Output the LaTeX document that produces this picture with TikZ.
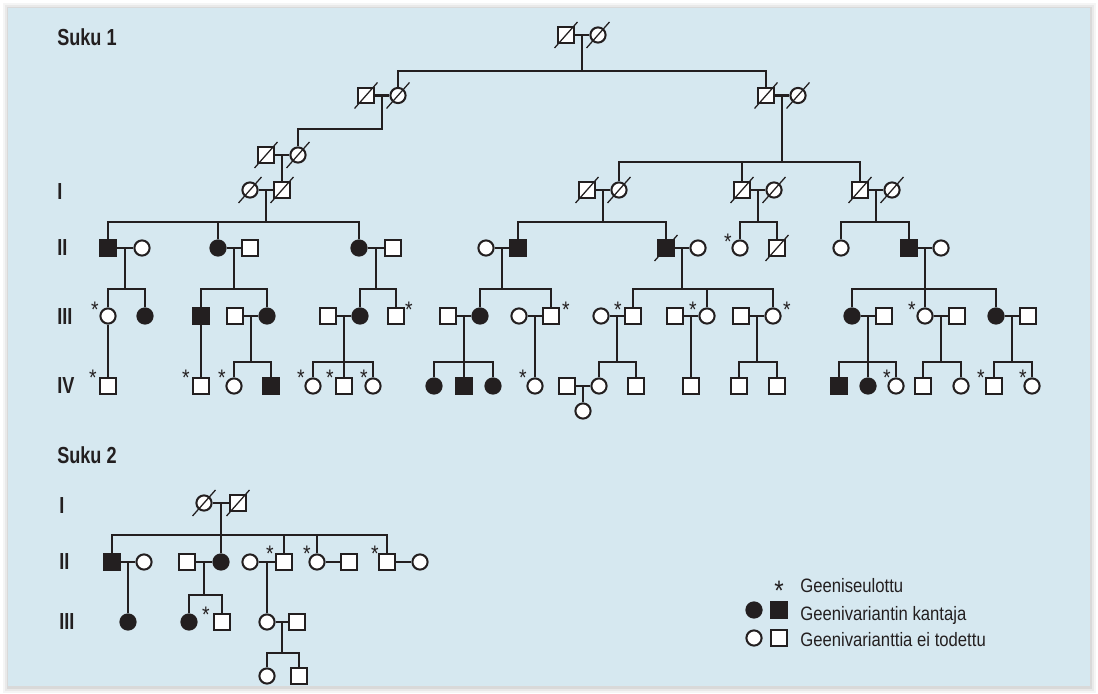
\documentclass[tikz,border=0pt]{standalone}
\usepackage{fontspec}
\setmainfont{Liberation Sans}[FakeStretch=0.86]
\newfontfamily\headfont{Liberation Sans}[FakeStretch=0.78]
\usetikzlibrary{calc}
\definecolor{cpanel}{HTML}{D6E8F0}
\definecolor{cink}{HTML}{231F20}

\tikzset{
  sym/.style={draw=cink, line width=1.45pt, minimum size=0.38cm, inner sep=0pt, fill=white},
  sq/.style={sym, rectangle},
  ci/.style={sym, circle},
  aff/.style={fill=cink},
  slash/.style={draw=cink, line width=0.9pt},
  ast/.style={inner sep=0pt, font=\fontsize{16}{16}\selectfont, text=cink, yshift=-3.5pt},
  gen/.style={anchor=west, inner sep=0pt, font=\headfont\bfseries\fontsize{16.5}{18}\selectfont, text=cink},
  legtext/.style={anchor=base west, inner sep=0pt, font=\fontsize{13.8}{15}\selectfont, text=cink},
  link/.style={draw=cink, line width=1.45pt}
}

\begin{document}
\begin{tikzpicture}[x=0.025cm, y=-0.025cm]
  \useasboundingbox (0,0) rectangle (1098,694);
  % panel with soft shadow
  \fill[black, opacity=.04] (3,3) rectangle (1096,693);
  \fill[black, opacity=.05] (5,5) rectangle (1094,691);
  \fill[black, opacity=.07] (7,7) rectangle (1092,689);
  \fill[cpanel] (8,8) rectangle (1090,686);

  % titles and generations
  \node[gen] (suku1) at (57,37) {Suku 1};
  \node[gen] (g1) at (57,192) {I};
  \node[gen] (g2) at (57,248) {II};
  \node[gen] (g3) at (57,317) {III};
  \node[gen] (g4) at (57,386) {IV};
  \node[gen] (suku2) at (57,455.5) {Suku 2};
  \node[gen] (h1) at (59,506) {I};
  \node[gen] (h2) at (59,562) {II};
  \node[gen] (h3) at (59,622) {III};

  % Suku 1, ancestors
  \node[sq] (t1) at (566,35) {};
  \node[ci] (t2) at (598,35) {};
  \node[sq] (b1) at (366,95.5) {};
  \node[ci] (b2) at (398,95.5) {};
  \node[sq] (b3) at (766,95.5) {};
  \node[ci] (b4) at (798,95.5) {};
  \node[sq] (a1) at (266,155) {};
  \node[ci] (a2) at (298,155) {};
  % generation I
  \node[ci] (i1) at (250,190) {};
  \node[sq] (i2) at (282,190) {};
  \node[sq] (i3) at (587,190) {};
  \node[ci] (i4) at (619,190) {};
  \node[sq] (i5) at (742,190) {};
  \node[ci] (i6) at (774,190) {};
  \node[sq] (i7) at (860,190) {};
  \node[ci] (i8) at (892,190) {};
  % generation II
  \node[sq, aff] (ii1) at (108,248) {};
  \node[ci] (ii2) at (142,248) {};
  \node[ci, aff] (ii3) at (218,248) {};
  \node[sq] (ii4) at (250,248) {};
  \node[ci, aff] (ii5) at (359,248) {};
  \node[sq] (ii6) at (393,248) {};
  \node[ci] (ii7) at (486,248) {};
  \node[sq, aff] (ii8) at (518,248) {};
  \node[sq, aff] (ii9) at (666,248) {};
  \node[ci] (ii10) at (698,248) {};
  \node[ci] (ii11) at (740,248) {};
  \node[sq] (ii12) at (777,248) {};
  \node[ci] (ii13) at (841,248) {};
  \node[sq, aff] (ii14) at (909,248) {};
  \node[ci] (ii15) at (941,248) {};
  % generation III
  \node[ci] (iii1) at (108,316) {};
  \node[ci, aff] (iii2) at (145,316) {};
  \node[sq, aff] (iii3) at (201,316) {};
  \node[sq] (iii4) at (235,316) {};
  \node[ci, aff] (iii5) at (267,316) {};
  \node[sq] (iii6) at (328,316) {};
  \node[ci, aff] (iii7) at (360,316) {};
  \node[sq] (iii8) at (396,316) {};
  \node[sq] (iii9) at (448,316) {};
  \node[ci, aff] (iii10) at (480,316) {};
  \node[ci] (iii11) at (519,316) {};
  \node[sq] (iii12) at (551,316) {};
  \node[ci] (iii13) at (601,316) {};
  \node[sq] (iii14) at (633,316) {};
  \node[sq] (iii15) at (675,316) {};
  \node[ci] (iii16) at (707,316) {};
  \node[sq] (iii17) at (741,316) {};
  \node[ci] (iii18) at (773,316) {};
  \node[ci, aff] (iii19) at (852,316) {};
  \node[sq] (iii20) at (884,316) {};
  \node[ci] (iii21) at (925,316) {};
  \node[sq] (iii22) at (957,316) {};
  \node[ci, aff] (iii23) at (996,316) {};
  \node[sq] (iii24) at (1028,316) {};
  % generation IV
  \node[sq] (iv1) at (108,386) {};
  \node[sq] (iv2) at (201,386) {};
  \node[ci] (iv3) at (234,386) {};
  \node[sq, aff] (iv4) at (271,386) {};
  \node[ci] (iv5) at (313,386) {};
  \node[sq] (iv6) at (344,386) {};
  \node[ci] (iv7) at (373,386) {};
  \node[ci, aff] (iv8) at (434,386) {};
  \node[sq, aff] (iv9) at (464,386) {};
  \node[ci, aff] (iv10) at (493,386) {};
  \node[ci] (iv11) at (535,386) {};
  \node[sq] (iv12) at (567,386) {};
  \node[ci] (iv13) at (599,386) {};
  \node[sq] (iv14) at (636,386) {};
  \node[sq] (iv15) at (691,386) {};
  \node[sq] (iv16) at (739,386) {};
  \node[sq] (iv17) at (777,386) {};
  \node[sq, aff] (iv18) at (839,386) {};
  \node[ci, aff] (iv19) at (868,386) {};
  \node[ci] (iv20) at (896,386) {};
  \node[sq] (iv21) at (923,386) {};
  \node[ci] (iv22) at (961,386) {};
  \node[sq] (iv23) at (994,386) {};
  \node[ci] (iv24) at (1032,386) {};
  \node[ci] (v1) at (583,411) {};

  % Suku 1, lines
  \draw[link] (t1) -- coordinate (mt1) (t2);
  \foreach \c in {b2,b3} \draw[link] (mt1) |- ($(\c.north)+(0,-16)$) -- (\c.north);
  \draw[link] (b1) -- coordinate (mb1) (b2);
  \draw[link] (mb1) |- ($(a2.north)+(0,-17.5)$) -- (a2.north);
  \draw[link] (b3) -- coordinate (mb3) (b4);
  \foreach \c in {i4,i5,i7} \draw[link] (mb3) |- ($(\c.north)+(0,-19.5)$) -- (\c.north);
  \draw[link] (a1) -- coordinate (ma1) (a2);
  \draw[link] (ma1) -- (ma1 |- i2.north);
  \draw[link] (i1) -- coordinate (mi1) (i2);
  \foreach \c in {ii1,ii3,ii5} \draw[link] (mi1) |- ($(\c.north)+(0,-17.5)$) -- (\c.north);
  \draw[link] (i3) -- coordinate (mi3) (i4);
  \foreach \c in {ii8,ii9} \draw[link] (mi3) |- ($(\c.north)+(0,-17.5)$) -- (\c.north);
  \draw[link] (i5) -- coordinate (mi5) (i6);
  \foreach \c in {ii11,ii12} \draw[link] (mi5) |- ($(\c.north)+(0,-17.5)$) -- (\c.north);
  \draw[link] (i7) -- coordinate (mi7) (i8);
  \foreach \c in {ii13,ii14} \draw[link] (mi7) |- ($(\c.north)+(0,-17.5)$) -- (\c.north);

  \draw[link] (ii1) -- coordinate (mii1) (ii2);
  \foreach \c in {iii1,iii2} \draw[link] (mii1) |- ($(\c.north)+(0,-18)$) -- (\c.north);
  \draw[link] (ii3) -- coordinate (mii3) (ii4);
  \foreach \c in {iii3,iii5} \draw[link] (mii3) |- ($(\c.north)+(0,-18)$) -- (\c.north);
  \draw[link] (ii5) -- coordinate (mii5) (ii6);
  \foreach \c in {iii7,iii8} \draw[link] (mii5) |- ($(\c.north)+(0,-18)$) -- (\c.north);
  \draw[link] (ii7) -- coordinate (mii7) (ii8);
  \foreach \c in {iii10,iii12} \draw[link] (mii7) |- ($(\c.north)+(0,-18)$) -- (\c.north);
  \draw[link] (ii9) -- coordinate (mii9) (ii10);
  \foreach \c in {iii14,iii16,iii18} \draw[link] (mii9) |- ($(\c.north)+(0,-18)$) -- (\c.north);
  \draw[link] (ii14) -- coordinate (mii14) (ii15);
  \foreach \c in {iii19,iii21,iii23} \draw[link] (mii14) |- ($(\c.north)+(0,-18)$) -- (\c.north);

  \draw[link] (iii1) -- (iv1);
  \draw[link] (iii3) -- (iv2);
  \draw[link] (iii4) -- coordinate (miii4) (iii5);
  \foreach \c in {iv3,iv4} \draw[link] (miii4) |- ($(\c.north)+(0,-15.5)$) -- (\c.north);
  \draw[link] (iii6) -- coordinate (miii6) (iii7);
  \foreach \c in {iv5,iv6,iv7} \draw[link] (miii6) |- ($(\c.north)+(0,-15.5)$) -- (\c.north);
  \draw[link] (iii9) -- coordinate (miii9) (iii10);
  \foreach \c in {iv8,iv9,iv10} \draw[link] (miii9) |- ($(\c.north)+(0,-15.5)$) -- (\c.north);
  \draw[link] (iii11) -- coordinate (miii11) (iii12);
  \draw[link] (miii11) -- (miii11 |- iv11.north);
  \draw[link] (iii13) -- coordinate (miii13) (iii14);
  \foreach \c in {iv13,iv14} \draw[link] (miii13) |- ($(\c.north)+(0,-15.5)$) -- (\c.north);
  \draw[link] (iii15) -- coordinate (miii15) (iii16);
  \draw[link] (miii15) -- (miii15 |- iv15.north);
  \draw[link] (iii17) -- coordinate (miii17) (iii18);
  \foreach \c in {iv16,iv17} \draw[link] (miii17) |- ($(\c.north)+(0,-15.5)$) -- (\c.north);
  \draw[link] (iii19) -- coordinate (miii19) (iii20);
  \foreach \c in {iv18,iv19,iv20} \draw[link] (miii19) |- ($(\c.north)+(0,-15.5)$) -- (\c.north);
  \draw[link] (iii21) -- coordinate (miii21) (iii22);
  \foreach \c in {iv21,iv22} \draw[link] (miii21) |- ($(\c.north)+(0,-15.5)$) -- (\c.north);
  \draw[link] (iii23) -- coordinate (miii23) (iii24);
  \foreach \c in {iv23,iv24} \draw[link] (miii23) |- ($(\c.north)+(0,-15.5)$) -- (\c.north);
  \draw[link] (iv12) -- coordinate (miv12) (iv13);
  \draw[link] (miv12) -- (miv12 |- v1.north);

  % Suku 1, screened
  \node[ast] (s-ii11) at ($(ii11)+(-12,-11)$) {*};
  \node[ast] (s-iii1) at ($(iii1)+(-13,-11)$) {*};
  \node[ast] (s-iii8) at ($(iii8)+(13,-11)$) {*};
  \node[ast] (s-iii12) at ($(iii12)+(15,-11)$) {*};
  \node[ast] (s-iii14) at ($(iii14)+(-15,-11)$) {*};
  \node[ast] (s-iii16) at ($(iii16)+(-14,-11)$) {*};
  \node[ast] (s-iii18) at ($(iii18)+(14,-11)$) {*};
  \node[ast] (s-iii21) at ($(iii21)+(-13,-11)$) {*};
  \node[ast] (s-iv1) at ($(iv1)+(-15,-13)$) {*};
  \node[ast] (s-iv2) at ($(iv2)+(-15,-13)$) {*};
  \node[ast] (s-iv3) at ($(iv3)+(-12,-13)$) {*};
  \node[ast] (s-iv5) at ($(iv5)+(-12,-13)$) {*};
  \node[ast] (s-iv6) at ($(iv6)+(-14,-13)$) {*};
  \node[ast] (s-iv7) at ($(iv7)+(-9,-13)$) {*};
  \node[ast] (s-iv11) at ($(iv11)+(-12,-13)$) {*};
  \node[ast] (s-iv20) at ($(iv20)+(-9,-13)$) {*};
  \node[ast] (s-iv23) at ($(iv23)+(-13,-13)$) {*};
  \node[ast] (s-iv24) at ($(iv24)+(-9,-13)$) {*};

  % Suku 2
  \node[ci] (k1) at (204,503) {};
  \node[sq] (k2) at (238,503) {};
  \node[sq, aff] (k3) at (112,562) {};
  \node[ci] (k4) at (144,562) {};
  \node[sq] (k5) at (187,562) {};
  \node[ci, aff] (k6) at (221,562) {};
  \node[ci] (k7) at (250,562) {};
  \node[sq] (k8) at (284,562) {};
  \node[ci] (k9) at (317,562) {};
  \node[sq] (k10) at (349,562) {};
  \node[sq] (k11) at (387,562) {};
  \node[ci] (k12) at (420,562) {};
  \node[ci, aff] (k13) at (128,622) {};
  \node[ci, aff] (k14) at (189,622) {};
  \node[sq] (k15) at (222,622) {};
  \node[ci] (k16) at (267,622) {};
  \node[sq] (k17) at (297,622) {};
  \node[ci] (k18) at (267,676) {};
  \node[sq] (k19) at (299,676) {};

  \draw[link] (k1) -- coordinate (mk1) (k2);
  \foreach \c in {k3,k6,k8,k9,k11} \draw[link] (mk1) |- ($(\c.north)+(0,-18.5)$) -- (\c.north);
  \draw[link] (k3) -- coordinate (mk3) (k4);
  \draw[link] (mk3) -- (mk3 |- k13.north);
  \draw[link] (k5) -- coordinate (mk5) (k6);
  \foreach \c in {k14,k15} \draw[link] (mk5) |- ($(\c.north)+(0,-18.5)$) -- (\c.north);
  \draw[link] (k7) -- coordinate (mk7) (k8);
  \draw[link] (mk7) -- (mk7 |- k16.north);
  \draw[link] (k9) -- (k10);
  \draw[link] (k11) -- (k12);
  \draw[link] (k16) -- coordinate (mk16) (k17);
  \foreach \c in {k18,k19} \draw[link] (mk16) |- ($(\c.north)+(0,-14.5)$) -- (\c.north);

  \node[ast] (s-k8) at ($(k8)+(-14,-13)$) {*};
  \node[ast] (s-k9) at ($(k9)+(-10,-13)$) {*};
  \node[ast] (s-k11) at ($(k11)+(-12,-13)$) {*};
  \node[ast] (s-k15) at ($(k15)+(-16,-12)$) {*};

  % deceased
  \foreach \n in {t1,t2,b1,b2,b3,b4,a1,a2,i1,i2,i3,i4,i5,i6,i7,i8,ii9,ii12,k1,k2}
    \draw[slash] ($(\n)+(-11.5,13)$) -- ($(\n)+(11.5,-13)$);

  % legend
  \node[ast, font=\fontsize{20}{20}\selectfont, yshift=-1pt] (lg0) at (779,584) {*};
  \node[ci, aff] (lg1) at (754,610) {};
  \node[sq, aff] (lg2) at (779,610) {};
  \node[ci] (lg3) at (754,638) {};
  \node[sq] (lg4) at (779,638) {};
  \node[legtext] (lgt1) at (800,592) {Geeniseulottu};
  \node[legtext] (lgt2) at (800,620) {Geenivariantin kantaja};
  \node[legtext] (lgt3) at (800,646) {Geenivarianttia ei todettu};
\end{tikzpicture}
\end{document}
